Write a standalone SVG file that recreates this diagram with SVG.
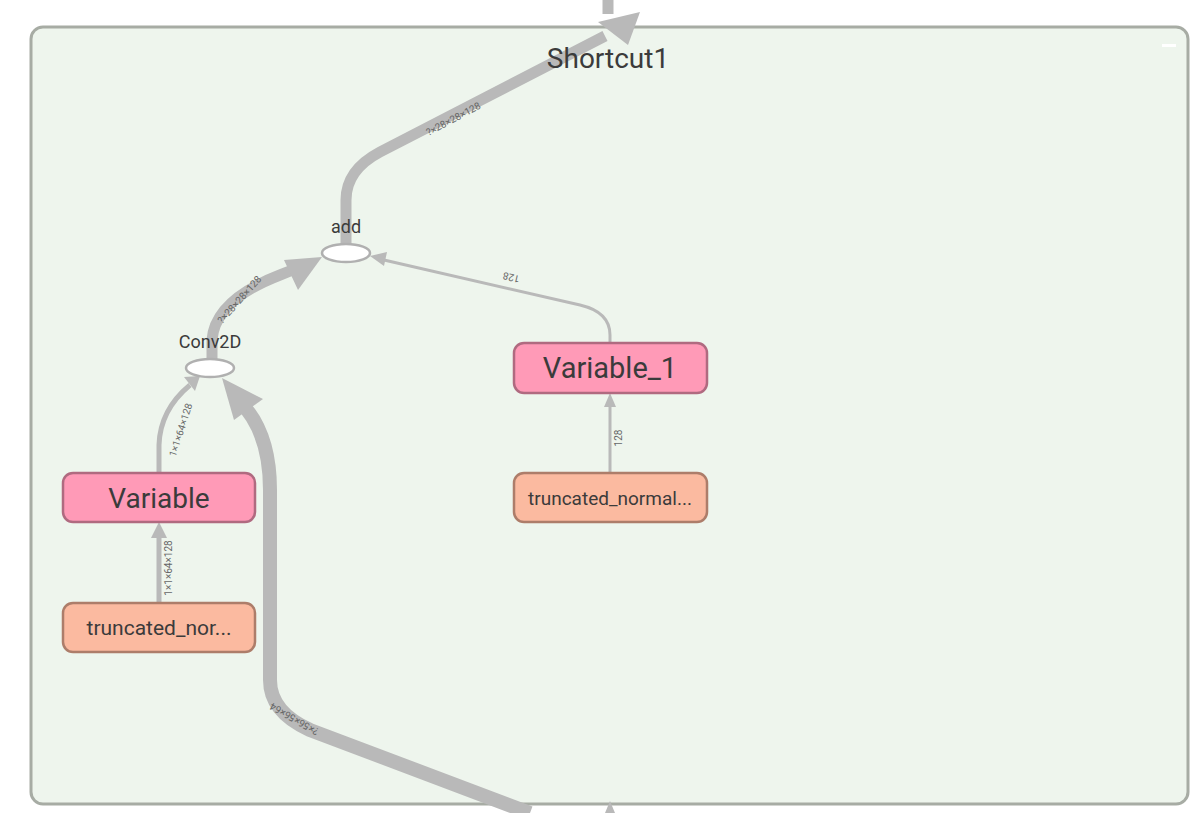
<svg xmlns="http://www.w3.org/2000/svg" width="1200" height="813" viewBox="0 0 1200 813">
<style>
.t{font-family:Roboto,"Liberation Sans",sans-serif;fill:#3b3b3b;text-anchor:middle}
.e{fill:none;stroke:#b9b9b9}
.lbl{font-family:Roboto,"Liberation Sans",sans-serif;font-size:10px;fill:#666;text-anchor:middle}
.var{fill:#ff9ab7;stroke:#b06a80;stroke-width:2.5}
.tn{fill:#fbbaa0;stroke:#ad7d6a;stroke-width:2.5}
.op{fill:#fff;stroke:#b0b0b0;stroke-width:2.5}
</style>
<rect width="1200" height="813" fill="#fff"/>
<g id="Shortcut1">
<rect x="31" y="27" width="1157" height="777" rx="12" fill="#eef5ed" stroke="#a7aca4" stroke-width="3"/>
<rect x="1162" y="44" width="14" height="3" fill="#fff"/>
</g>
<g id="connectors" fill="#b9b9b9">
<path class="e" stroke-width="11" d="M608,0 V14"/>
<path class="e" stroke-width="11" d="M346,244 V200 Q346,170 380,152 L605,36"/>
<polygon points="598,22 640,12 628,45"/>
<path class="e" stroke-width="11" d="M212,359 V340 Q215,300 280,275 L300,267"/>
<polygon points="284,260 322,257 298,290"/>
<path class="e" stroke-width="14" d="M530,813 L310,730 Q270,712 270,680 V490 Q270,430 238,400"/>
<polygon points="222,378 263,399 234,420"/>
<path class="e" stroke-width="5" d="M159,473 V445 Q160,410 190,385"/>
<polygon points="200,376 184,377 195,391"/>
<path class="e" stroke-width="5" d="M159,603 V535"/>
<polygon points="159,522 151,538 167,538"/>
<path class="e" stroke-width="3" d="M610,343 V335 Q610,312 580,305 L384,260"/>
<polygon points="370,256 387,252 384,266"/>
<path class="e" stroke-width="3" d="M610,473 V405"/>
<polygon points="610,393 604,407 616,407"/>
<polygon points="610,801 605,813 615,813"/>
<text class="lbl" transform="translate(455,122) rotate(-28)">?×28×28×128</text>
<text class="lbl" transform="translate(512,274) rotate(193)">128</text>
<text class="lbl" transform="translate(242,302) rotate(-48)">?×28×28×128</text>
<text class="lbl" transform="translate(184,431) rotate(-72)">1×1×64×128</text>
<text class="lbl" transform="translate(172,568) rotate(-90)">1×1×64×128</text>
<text class="lbl" transform="translate(622,438) rotate(-90)">128</text>
<text class="lbl" transform="translate(296,716) rotate(210)">?×56×56×64</text>
</g>
<text class="t" x="608" y="68" font-size="28">Shortcut1</text>
<g id="add">
<ellipse class="op" cx="346" cy="253" rx="24" ry="9"/>
<text class="t" x="346" y="233" font-size="18">add</text>
</g>
<g id="Conv2D">
<ellipse class="op" cx="210" cy="368" rx="24" ry="9"/>
<text class="t" x="210" y="348" font-size="18">Conv2D</text>
</g>
<g id="Variable">
<rect class="var" x="63" y="473" width="192" height="49" rx="10"/>
<text class="t" x="159" y="508" font-size="28">Variable</text>
</g>
<g id="truncated_normal">
<rect class="tn" x="63" y="603" width="192" height="49" rx="10"/>
<text class="t" x="159" y="635" font-size="21">truncated_nor...</text>
</g>
<g id="Variable_1">
<rect class="var" x="514" y="343" width="193" height="50" rx="10"/>
<text class="t" x="610" y="378" font-size="29">Variable_1</text>
</g>
<g id="truncated_normal_1">
<rect class="tn" x="514" y="473" width="193" height="49" rx="10"/>
<text class="t" x="610" y="505" font-size="19">truncated_normal...</text>
</g>
</svg>
